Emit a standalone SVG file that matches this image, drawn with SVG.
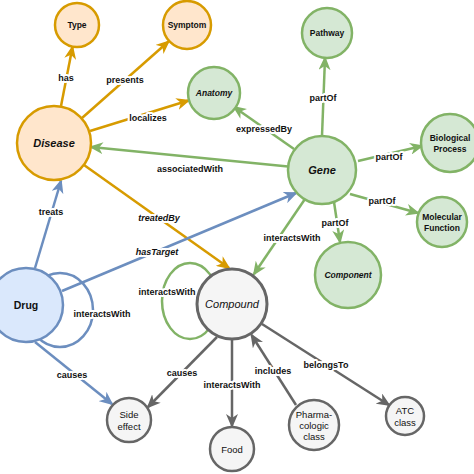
<svg xmlns="http://www.w3.org/2000/svg" width="474" height="474" viewBox="0 0 474 474">
<style>
.o{fill:#ffe6cc;stroke:#d79b00;stroke-width:2.5}
.g{fill:#d5e8d4;stroke:#82b366;stroke-width:2.5}
.b{fill:#dae8fc;stroke:#6c8ebf;stroke-width:2.5}
.k{fill:#f5f5f5;stroke:#666666;stroke-width:2.5}
.e{fill:none;stroke-width:2.5}
.eo{stroke:#d79b00}.eg{stroke:#82b366}.eb{stroke:#6c8ebf}.ek{stroke:#666666}
text{font-family:"Liberation Sans",Arial,sans-serif;fill:#111;text-anchor:middle;dominant-baseline:central}
.lbl{font-size:9px;font-weight:bold;stroke:#fff;stroke-width:4;stroke-linejoin:round;paint-order:stroke}
.it{font-style:italic}
.n{font-size:8.5px;font-weight:bold}
.big{font-size:11px;font-weight:bold;font-style:italic}
.gr{font-size:9.5px}
</style>
<defs>
<marker id="ao" markerUnits="userSpaceOnUse" markerWidth="14" markerHeight="12" refX="12" refY="6" orient="auto"><path d="M0,0 L14,6 L0,12 L4,6 Z" fill="#d79b00"/></marker>
<marker id="ag" markerUnits="userSpaceOnUse" markerWidth="14" markerHeight="12" refX="12" refY="6" orient="auto"><path d="M0,0 L14,6 L0,12 L4,6 Z" fill="#82b366"/></marker>
<marker id="ab" markerUnits="userSpaceOnUse" markerWidth="14" markerHeight="12" refX="12" refY="6" orient="auto"><path d="M0,0 L14,6 L0,12 L4,6 Z" fill="#6c8ebf"/></marker>
<marker id="ak" markerUnits="userSpaceOnUse" markerWidth="14" markerHeight="12" refX="12" refY="6" orient="auto"><path d="M0,0 L14,6 L0,12 L4,6 Z" fill="#666666"/></marker>
</defs>
<g id="connectors">
<line class="e eo" x1="61" y1="106" x2="72.5" y2="47" marker-end="url(#ao)"/>
<line class="e eo" x1="82" y1="118" x2="168.5" y2="41.5" marker-end="url(#ao)"/>
<line class="e eo" x1="90" y1="131" x2="188.5" y2="100.5" marker-end="url(#ao)"/>
<line class="e eg" x1="288" y1="166.5" x2="91" y2="147" marker-end="url(#ag)"/>
<line class="e eo" x1="84" y1="165" x2="229" y2="268" marker-end="url(#ao)"/>
<line class="e eb" x1="35" y1="268" x2="61" y2="181" marker-end="url(#ab)"/>
<line class="e eb" x1="62" y1="291" x2="296" y2="193" marker-end="url(#ab)"/>
<ellipse class="e eb" cx="60" cy="310" rx="33" ry="37"/>
<line class="e eb" x1="35" y1="342" x2="112" y2="404" marker-end="url(#ab)"/>
<line class="e eg" x1="305" y1="199" x2="254" y2="274" marker-end="url(#ag)"/>
<ellipse class="e eg" cx="190" cy="301" rx="28" ry="38"/>
<line class="e ek" x1="217" y1="337" x2="148" y2="407" marker-end="url(#ak)"/>
<line class="e ek" x1="232" y1="339" x2="232" y2="426" marker-end="url(#ak)"/>
<line class="e ek" x1="296" y1="405" x2="251.5" y2="335" marker-end="url(#ak)"/>
<line class="e ek" x1="262" y1="324" x2="389" y2="405" marker-end="url(#ak)"/>
<line class="e eg" x1="294" y1="149" x2="234" y2="107" marker-end="url(#ag)"/>
<line class="e eg" x1="322" y1="136" x2="325" y2="58" marker-end="url(#ag)"/>
<line class="e eg" x1="358" y1="161" x2="422" y2="146" marker-end="url(#ag)"/>
<line class="e eg" x1="350" y1="194" x2="418" y2="213" marker-end="url(#ag)"/>
<line class="e eg" x1="334" y1="202" x2="340" y2="242" marker-end="url(#ag)"/>
<text class="lbl" x="66" y="78">has</text>
<text class="lbl" x="125" y="80">presents</text>
<text class="lbl" x="148" y="118">localizes</text>
<text class="lbl" x="190" y="169">associatedWith</text>
<text class="lbl it" x="159" y="218">treatedBy</text>
<text class="lbl" x="51" y="212">treats</text>
<text class="lbl it" x="157" y="252">hasTarget</text>
<text class="lbl" x="102" y="314">interactsWith</text>
<text class="lbl" x="72" y="375">causes</text>
<text class="lbl" x="292" y="238">interactsWith</text>
<text class="lbl" x="167" y="292">interactsWith</text>
<text class="lbl" x="182" y="373">causes</text>
<text class="lbl" x="232" y="385">interactsWith</text>
<text class="lbl" x="273" y="371">includes</text>
<text class="lbl" x="326" y="365">belongsTo</text>
<text class="lbl" x="264" y="129">expressedBy</text>
<text class="lbl" x="323" y="98">partOf</text>
<text class="lbl" x="389" y="157">partOf</text>
<text class="lbl" x="382" y="201">partOf</text>
<text class="lbl" x="335" y="223">partOf</text>
</g>
<g id="node-type"><circle class="o" cx="77" cy="25" r="22"/><text class="n" x="77" y="25">Type</text></g>
<g id="node-symptom"><circle class="o" cx="187" cy="25" r="24"/><text class="n" x="187" y="25">Symptom</text></g>
<g id="node-disease"><circle class="o" cx="54" cy="143" r="37"/><text class="big" x="54" y="143">Disease</text></g>
<g id="node-anatomy"><circle class="g" cx="214" cy="93" r="26"/><text class="n it" x="214" y="93">Anatomy</text></g>
<g id="node-pathway"><circle class="g" cx="327" cy="33" r="25"/><text class="n" x="327" y="33">Pathway</text></g>
<g id="node-gene"><circle class="g" cx="322" cy="170" r="34"/><text class="big" x="322" y="170">Gene</text></g>
<g id="node-biological-process"><circle class="g" cx="450" cy="143" r="29"/><text class="n" x="450" y="138">Biological</text><text class="n" x="450" y="149">Process</text></g>
<g id="node-molecular-function"><circle class="g" cx="442" cy="222" r="25"/><text class="n" x="442" y="217">Molecular</text><text class="n" x="442" y="228">Function</text></g>
<g id="node-component"><circle class="g" cx="348" cy="275" r="33"/><text class="n it" x="348" y="275">Component</text></g>
<g id="node-drug"><circle class="b" cx="26" cy="305" r="37"/><text x="26" y="305" style="font-size:10.5px;font-weight:bold">Drug</text></g>
<g id="node-compound"><circle class="k" cx="232" cy="304" r="35" style="stroke-width:3"/><text x="232" y="304" style="font-size:11px;font-style:italic">Compound</text></g>
<g id="node-side-effect"><circle class="k" cx="129" cy="420" r="22"/><text class="gr" x="129" y="414">Side</text><text class="gr" x="129" y="426">effect</text></g>
<g id="node-food"><circle class="k" cx="232" cy="449" r="22"/><text class="gr" x="232" y="449">Food</text></g>
<g id="node-pharmacologic-class"><circle class="k" cx="314" cy="425" r="25"/><text class="gr" x="314" y="414">Pharma-</text><text class="gr" x="314" y="425">cologic</text><text class="gr" x="314" y="436">class</text></g>
<g id="node-atc-class"><circle class="k" cx="405" cy="416" r="19"/><text class="gr" x="405" y="410">ATC</text><text class="gr" x="405" y="422">class</text></g>
</svg>
